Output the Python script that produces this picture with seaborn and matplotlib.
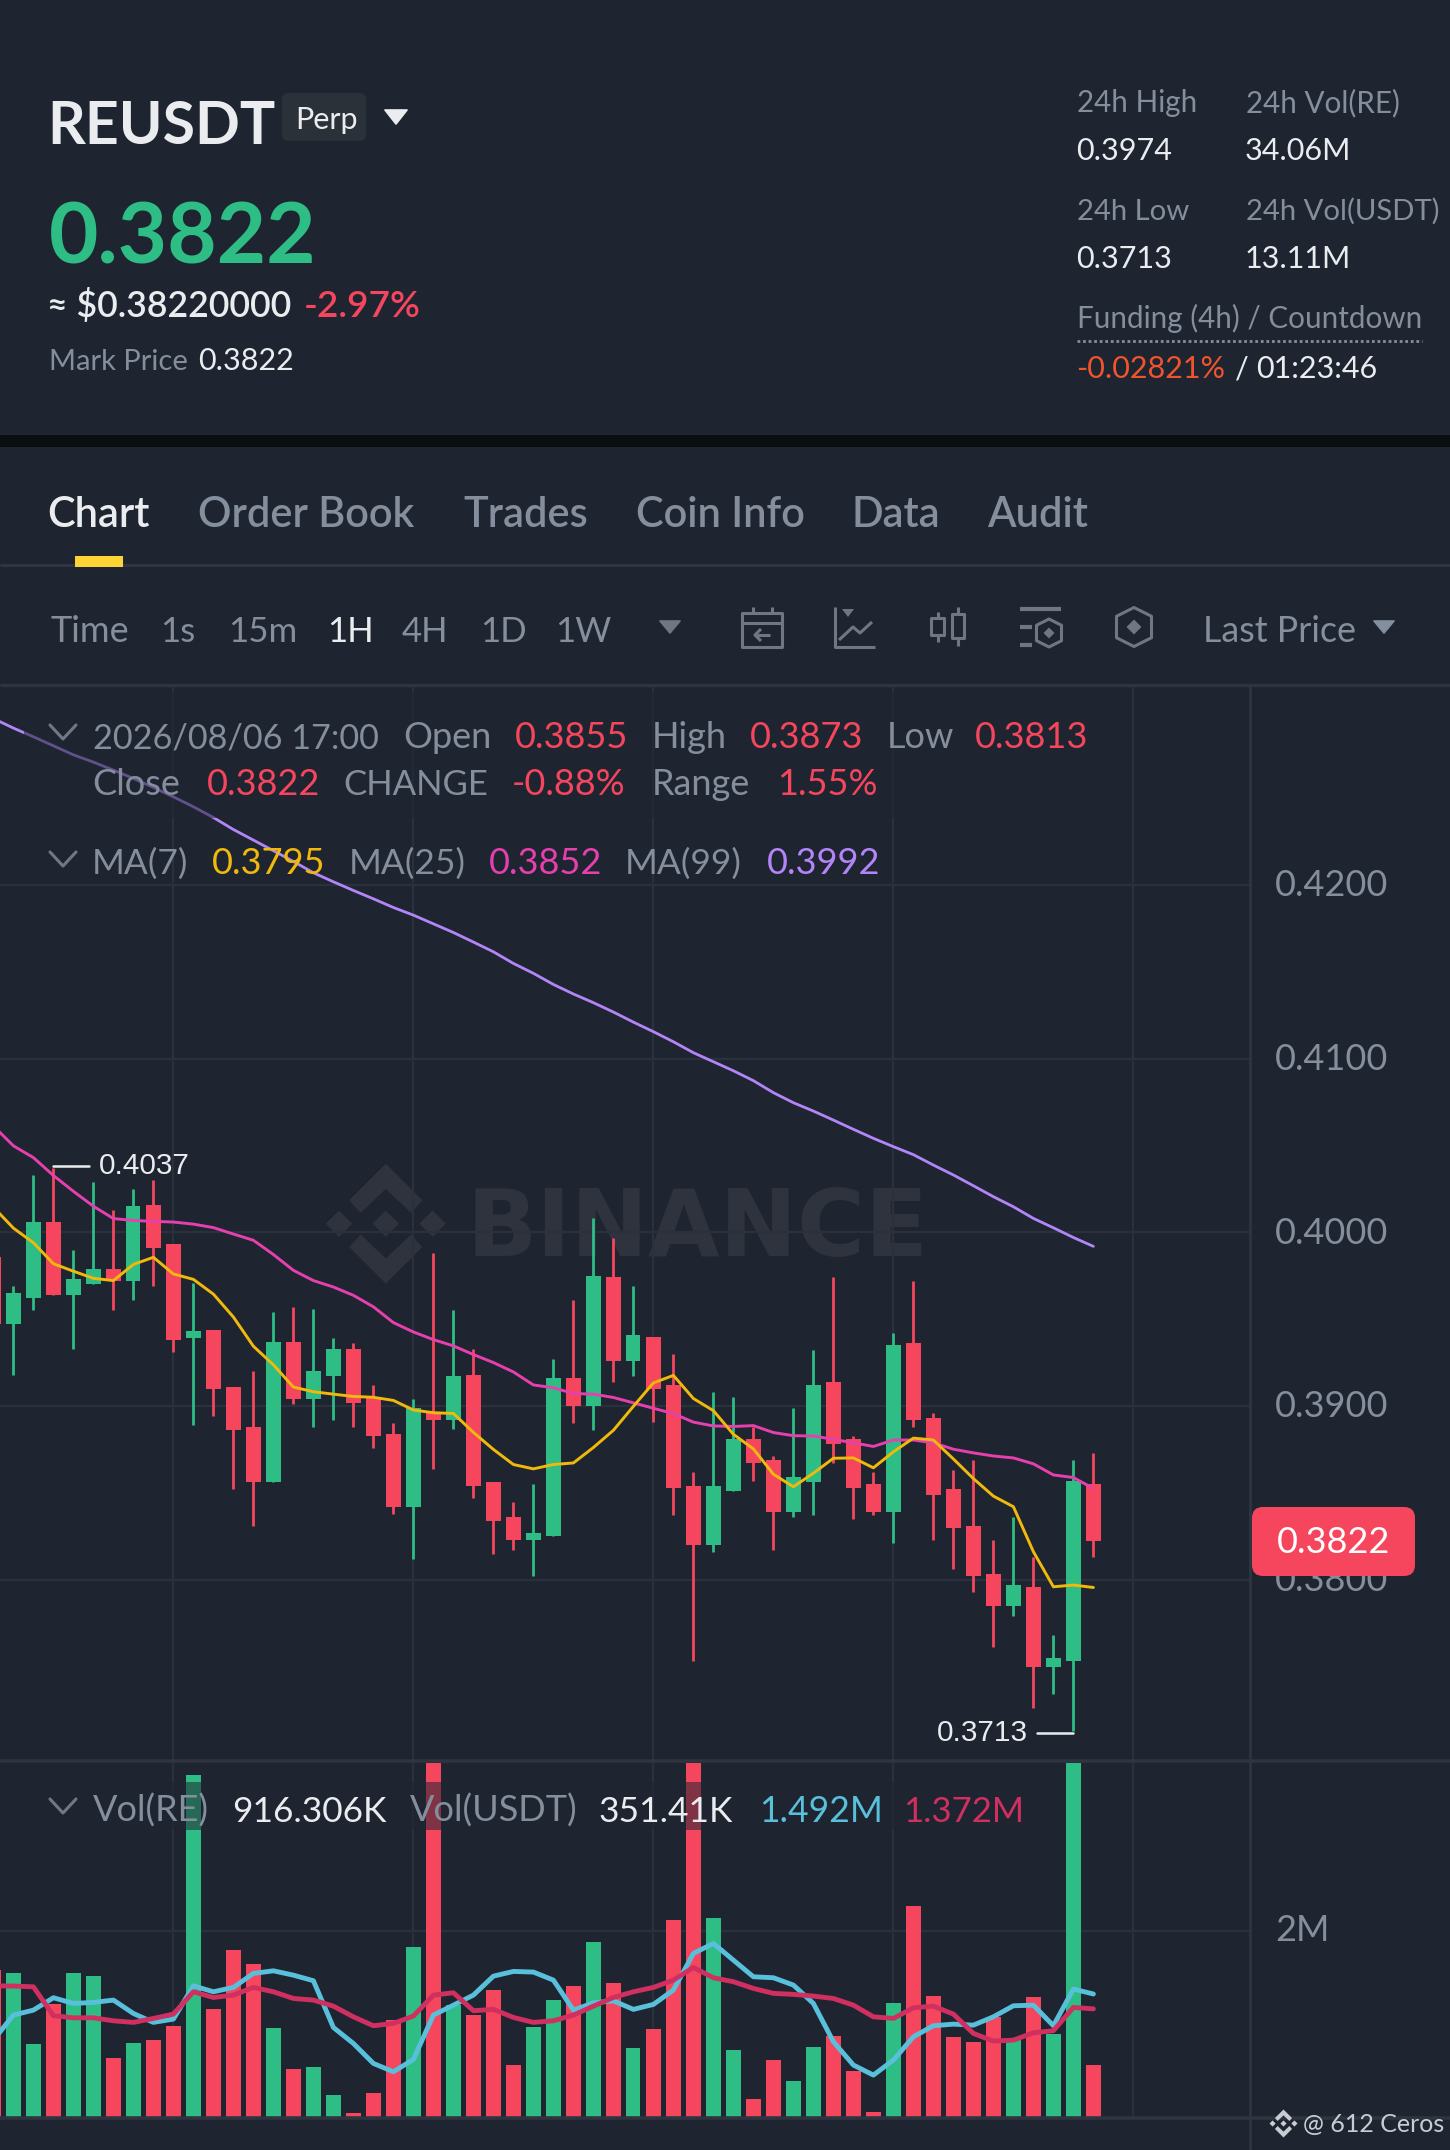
import matplotlib
matplotlib.use('Agg')
import numpy as np
import pandas as pd
import matplotlib.pyplot as plt
import seaborn as sns
from matplotlib.patches import Polygon, Rectangle, FancyBboxPatch
from matplotlib.transforms import ScaledTranslation

# Candles, one per hour, the first one is mostly cut off by the left edge
opens = [0.3986, 0.3947, 0.3962, 0.4006, 0.3964, 0.3970, 0.3979, 0.3972, 0.4016, 0.3993, 0.3939, 0.3944, 0.3911, 0.3888,
         0.3856, 0.3937, 0.3904, 0.3917, 0.3933, 0.3905, 0.3884, 0.3842, 0.3896, 0.3892, 0.3918, 0.3856, 0.3836, 0.3823,
         0.3825, 0.3916, 0.3900, 0.3974, 0.3926, 0.3940, 0.3912, 0.3854, 0.3820, 0.3851, 0.3881, 0.3869, 0.3839, 0.3856,
         0.3914, 0.3881, 0.3855, 0.3839, 0.3936, 0.3893, 0.3852, 0.3831, 0.3803, 0.3785, 0.3796, 0.3750, 0.3753, 0.3855]
highs = [0.3990, 0.3969, 0.4033, 0.4037, 0.3990, 0.4029, 0.4013, 0.4025, 0.4030, 0.3993, 0.3971, 0.3944, 0.3911, 0.3920,
         0.3954, 0.3957, 0.3956, 0.3939, 0.3936, 0.3912, 0.3890, 0.3904, 0.3988, 0.3955, 0.3933, 0.3856, 0.3845, 0.3855,
         0.3927, 0.3961, 0.4008, 0.3997, 0.3969, 0.3940, 0.3930, 0.3862, 0.3908, 0.3905, 0.3888, 0.3871, 0.3899, 0.3932,
         0.3974, 0.3883, 0.3862, 0.3942, 0.3972, 0.3896, 0.3863, 0.3869, 0.3823, 0.3836, 0.3813, 0.3768, 0.3869, 0.3873]
lows = [0.3945, 0.3918, 0.3955, 0.3964, 0.3933, 0.3970, 0.3955, 0.3961, 0.3969, 0.3931, 0.3889, 0.3894, 0.3852, 0.3831,
        0.3856, 0.3901, 0.3888, 0.3892, 0.3888, 0.3876, 0.3838, 0.3812, 0.3864, 0.3887, 0.3847, 0.3815, 0.3817, 0.3802,
        0.3825, 0.3890, 0.3886, 0.3914, 0.3917, 0.3891, 0.3837, 0.3753, 0.3816, 0.3851, 0.3857, 0.3817, 0.3836, 0.3837,
        0.3867, 0.3835, 0.3837, 0.3821, 0.3888, 0.3823, 0.3806, 0.3793, 0.3761, 0.3779, 0.3726, 0.3734, 0.3713, 0.3813]
closes = [0.3947, 0.3965, 0.4006, 0.3964, 0.3973, 0.3979, 0.3972, 0.4015, 0.3991, 0.3938, 0.3943, 0.3910, 0.3886, 0.3856,
          0.3937, 0.3904, 0.3920, 0.3933, 0.3902, 0.3883, 0.3842, 0.3899, 0.3892, 0.3917, 0.3854, 0.3834, 0.3823, 0.3827,
          0.3916, 0.3900, 0.3975, 0.3926, 0.3941, 0.3910, 0.3853, 0.3820, 0.3854, 0.3881, 0.3867, 0.3839, 0.3859, 0.3912,
          0.3878, 0.3853, 0.3839, 0.3935, 0.3892, 0.3849, 0.3830, 0.3802, 0.3785, 0.3797, 0.3750, 0.3755, 0.3857, 0.3822]

ma7 = [0.40145, 0.40024, 0.3994, 0.39819, 0.39776, 0.39735, 0.39722, 0.39815, 0.39856, 0.3976, 0.39729, 0.39644, 0.39512,
       0.39344, 0.39237, 0.39109, 0.39082, 0.39068, 0.39055, 0.3905, 0.39032, 0.38977, 0.38961, 0.38957, 0.38848, 0.3875,
       0.38663, 0.38638, 0.38663, 0.38672, 0.38761, 0.3886, 0.38998, 0.39133, 0.39176, 0.39043, 0.38973, 0.38837, 0.38753,
       0.38607, 0.38535, 0.38613, 0.38699, 0.38701, 0.38644, 0.38736, 0.38815, 0.38804, 0.38695, 0.38582, 0.38481, 0.3842,
       0.38161, 0.37959, 0.37969, 0.37955]
ma25 = [0.40612, 0.40498, 0.4043, 0.40327, 0.40236, 0.4015, 0.40079, 0.40068, 0.40063, 0.40059, 0.40047, 0.40027, 0.3999,
        0.39954, 0.39872, 0.39781, 0.39722, 0.39685, 0.39637, 0.39571, 0.3948, 0.39426, 0.39382, 0.39346, 0.39296, 0.3925,
        0.39196, 0.39121, 0.39105, 0.39072, 0.39068, 0.39049, 0.39018, 0.38987, 0.38956, 0.38907, 0.38885, 0.38882, 0.38887,
        0.38847, 0.38829, 0.38827, 0.38808, 0.38788, 0.38767, 0.38804, 0.38804, 0.38788, 0.38751, 0.3873, 0.38712, 0.38701,
        0.38667, 0.38603, 0.38588, 0.38525]
ma99 = [0.42958, 0.42903, 0.42853, 0.42801, 0.42749, 0.42707, 0.42661, 0.42613, 0.42561, 0.42507, 0.4245, 0.42388, 0.42319,
        0.42258, 0.42197, 0.42135, 0.4207, 0.42018, 0.41968, 0.4192, 0.4187, 0.41826, 0.41776, 0.41726, 0.41671, 0.41615,
        0.41548, 0.41491, 0.41427, 0.41372, 0.41322, 0.41268, 0.4121, 0.41155, 0.41097, 0.41034, 0.40982, 0.4093, 0.40873,
        0.40804, 0.40746, 0.40698, 0.40646, 0.40593, 0.40541, 0.40493, 0.40447, 0.40387, 0.4033, 0.40268, 0.40205, 0.40147,
        0.4008, 0.40026, 0.3997, 0.39919]

# Volume in millions, the three tallest bars run past the top of the panel
volume = [1.685, 1.658, 1.088, 1.411, 1.658, 1.634, 0.975, 1.096, 1.123, 1.230, 3.255, 1.368, 1.849, 1.730, 1.214, 0.886,
          0.905, 0.674, 0.529, 0.696, 1.282, 1.868, 3.600, 1.402, 1.319, 1.524, 0.919, 1.222, 1.443, 1.558, 1.913, 1.577,
          1.053, 1.209, 2.091, 3.600, 2.104, 1.037, 0.642, 0.959, 0.787, 1.061, 1.150, 0.870, 0.542, 1.421, 2.204, 1.475,
          1.142, 1.104, 1.308, 1.120, 1.464, 1.169, 3.600, 0.916]
vol_ma5 = [1.120, 1.322, 1.362, 1.462, 1.416, 1.424, 1.443, 1.335, 1.263, 1.290, 1.558, 1.510, 1.545, 1.658, 1.679, 1.644,
           1.599, 1.222, 1.093, 0.932, 0.865, 0.964, 1.322, 1.402, 1.483, 1.636, 1.674, 1.669, 1.604, 1.362, 1.421, 1.437,
           1.368, 1.408, 1.524, 1.819, 1.900, 1.765, 1.631, 1.623, 1.564, 1.416, 1.107, 0.919, 0.838, 0.959, 1.147, 1.236,
           1.249, 1.241, 1.308, 1.397, 1.402, 1.236, 1.532, 1.492]
vol_ma10 = [1.558, 1.556, 1.550, 1.317, 1.300, 1.300, 1.276, 1.263, 1.295, 1.330, 1.510, 1.464, 1.483, 1.545, 1.510, 1.456,
            1.443, 1.394, 1.308, 1.236, 1.255, 1.314, 1.483, 1.502, 1.357, 1.368, 1.303, 1.263, 1.276, 1.322, 1.394, 1.464,
            1.510, 1.545, 1.604, 1.706, 1.623, 1.591, 1.537, 1.497, 1.489, 1.475, 1.456, 1.402, 1.308, 1.295, 1.381, 1.394,
            1.330, 1.174, 1.112, 1.120, 1.179, 1.196, 1.384, 1.372]

price_ticks = [0.38, 0.39, 0.40, 0.41, 0.42]
hour_ticks = [9, 21, 33, 45, 57]

W, H = 1450, 2150
BG = '#1E2530'
GRID = '#2A313C'
LINE = '#2E3540'
GREEN = '#2EBD85'
RED = '#F6465D'
GREY = '#848E9C'
WHITE = '#EAECEF'
YELLOW = '#F0B90B'
PINK = '#E63FAE'
PURPLE = '#B385F8'
BLUE = '#59C0DC'
CRIMSON = '#CF3060'
MARK = '#2E333E'

sns.set_theme(style='dark', rc={'axes.facecolor': 'none', 'figure.facecolor': BG})
plt.rcParams['font.family'] = ['Lato', 'DejaVu Sans']

fig = plt.figure(figsize=(W / 100, H / 100), dpi=100)


def px_axes(z):
    a = fig.add_axes([0, 0, 1, 1], zorder=z)
    a.set_xlim(0, W)
    a.set_ylim(H, 0)
    a.axis('off')
    return a


def panel(top, bottom, z=1):
    a = fig.add_axes([0, 1 - bottom / H, 1250 / W, (bottom - top) / H], zorder=z)
    for s in a.spines.values():
        s.set_visible(False)
    a.set_axisbelow(True)
    return a


def lift_labels(a, px):
    for lab in a.get_yticklabels(which='both'):
        lab.set_transform(lab.get_transform() + ScaledTranslation(0, px / 100, fig.dpi_scale_trans))


under = px_axes(0)
ax = panel(685, 1761)
ax_vol = panel(1763, 2117)
ui = px_axes(2)

df = pd.DataFrame({'pos': np.arange(len(opens)), 'open': opens, 'high': highs, 'low': lows, 'close': closes,
                   'ma7': ma7, 'ma25': ma25, 'ma99': ma99, 'vol': volume, 'vol5': vol_ma5, 'vol10': vol_ma10})
df['side'] = np.where(df['close'] >= df['open'], 'up', 'down')
side_colors = {'up': GREEN, 'down': RED}
colors = df['side'].map(side_colors)

# watermark sits under the candles
def logo(a, cx, cy, r, color, z=1):
    top = [(-.61, -.39), (0, -1), (.61, -.39), (.42, -.18), (0, -.58), (-.42, -.18)]
    shapes = [top, [(x, -y) for x, y in top]]
    for dx in (-.78, 0, .78):
        shapes.append([(dx - .22, 0), (dx, -.22), (dx + .22, 0), (dx, .22)])
    for s in shapes:
        a.add_patch(Polygon([(cx + x * r, cy + y * r) for x, y in s], closed=True, fc=color, ec='none', zorder=z))


logo(under, 385.8, 1223.7, 60, MARK)
under.text(467, 1256, 'BINANCE', color=MARK, fontsize=66.5, fontweight='bold', family=['DejaVu Sans'], va='baseline')

# --- candles
ax.vlines(df['pos'], df['low'], df['high'], colors=colors, linewidth=2.0, zorder=3)
ax.bar(df['pos'], df['close'] - df['open'], bottom=df['open'], width=0.71, color=colors, edgecolor='none', linewidth=0, zorder=3)
sns.lineplot(data=df, x='pos', y='ma99', ax=ax, color=PURPLE, linewidth=2.0, zorder=4)
sns.lineplot(data=df, x='pos', y='ma25', ax=ax, color=PINK, linewidth=2.1, zorder=4)
sns.lineplot(data=df, x='pos', y='ma7', ax=ax, color=YELLOW, linewidth=2.1, zorder=4)

ax.set_xlim(0.33, 62.83)
ax.set_ylim(0.36956, 0.43151)
ax.set_xticks(hour_ticks)
ax.set_yticks(price_ticks)
ax.set_yticklabels([f'{p:.4f}' for p in price_ticks])
ax.yaxis.tick_right()
ax.tick_params(axis='x', length=0, labelbottom=False)
ax.tick_params(axis='y', length=0, pad=18, labelsize=26, labelcolor=GREY)
lift_labels(ax, 2)
ax.set_xlabel('')
ax.set_ylabel('')
ax.grid(True, color=GRID, linewidth=1.6)

# highest and lowest price markers
i_hi = int(np.argmax(highs))
i_lo = int(np.argmin(lows))
gap = 0.00014
ax.plot([i_hi, i_hi + 1.8], [highs[i_hi] + gap] * 2, color=WHITE, linewidth=1.8, zorder=5)
ax.plot([i_lo - 1.8, i_lo], [lows[i_lo] - gap] * 2, color=WHITE, linewidth=1.8, zorder=5)
ax.annotate(f'{highs[i_hi]:.4f}', (i_hi, highs[i_hi]), xytext=(45, -5.5), textcoords='offset pixels', color=WHITE,
            fontsize=21.4, family=['Liberation Sans'], va='baseline', ha='left', zorder=5)
ax.annotate(f'{lows[i_lo]:.4f}', (i_lo, lows[i_lo]), xytext=(-46, -10), textcoords='offset pixels', color=WHITE,
            fontsize=21.4, family=['Liberation Sans'], va='baseline', ha='right', zorder=5)

# --- volume
sns.barplot(data=df, x='pos', y='vol', hue='side', palette=side_colors, dodge=False, native_scale=True,
            width=0.71, saturation=1, legend=False, ax=ax_vol, zorder=3, linewidth=0, edgecolor='none')
sns.lineplot(data=df, x='pos', y='vol5', ax=ax_vol, color=BLUE, linewidth=3.5, zorder=4)
sns.lineplot(data=df, x='pos', y='vol10', ax=ax_vol, color=CRIMSON, linewidth=3.5, zorder=4)
ax_vol.set_xlim(0.33, 62.83)
ax_vol.set_ylim(0.5, 3.355)
ax_vol.set_xticks(hour_ticks)
ax_vol.set_yticks([2])
ax_vol.set_yticklabels(['2M'])
ax_vol.yaxis.tick_right()
ax_vol.tick_params(axis='x', length=0, labelbottom=False)
ax_vol.tick_params(axis='y', length=0, pad=18, labelsize=26, labelcolor=GREY)
lift_labels(ax_vol, 4)
ax_vol.set_xlabel('')
ax_vol.set_ylabel('')
ax_vol.grid(True, color=GRID, linewidth=1.6)


# --- screen furniture, in pixels
def t(x, y, s, color=WHITE, size=21, weight='normal', ha='left', a=ui, **kw):
    a.text(x, y, s, color=color, fontsize=size, fontweight=weight, ha=ha, va='baseline', zorder=6, **kw)


def hline(x0, x1, y, color=LINE, lw=2.0):
    ui.plot([x0, x1], [y, y], color=color, linewidth=lw, solid_capstyle='butt', zorder=3)


def triangle(x0, x1, y0, y1, color):
    ui.add_patch(Polygon([(x0, y0), (x1, y0), ((x0 + x1) / 2, y1)], closed=True, fc=color, ec=color, lw=1.2,
                         joinstyle='round', zorder=6))


def chevron(x0, x1, y0, y1):
    ui.plot([x0, (x0 + x1) / 2, x1], [y0, y1, y0], color=GREY, linewidth=2.2, alpha=.8, zorder=6)


def outline(pts, lw=2.2, closed=False, fill='none'):
    ui.add_patch(Polygon(pts, closed=closed, fc=fill, ec='#6F7785', lw=lw, joinstyle='round', zorder=6))


def hexagon(cx, cy, hw, hh):
    outline([(cx, cy - hh), (cx + hw, cy - hh * .55), (cx + hw, cy + hh * .55), (cx, cy + hh), (cx - hw, cy + hh * .55),
             (cx - hw, cy - hh * .55)], closed=True)
    hd = hw * .4
    outline([(cx - hd, cy), (cx, cy - hd), (cx + hd, cy), (cx, cy + hd)], lw=.5, closed=True, fill='#6F7785')


# header
t(47, 144, 'REUSDT', size=42.5, weight='bold')
ui.add_patch(FancyBboxPatch((286, 97), 76, 40, boxstyle='round,pad=4,rounding_size=7', fc='#2B3139', ec='none', zorder=3))
t(295, 129, 'Perp', size=22)
triangle(385, 407, 110, 124, WHITE)
t(49, 264, '0.3822', color=GREEN, size=61.5, weight='bold')
t(47, 317, '≈ $0.38220000', size=25.7, weight='semibold')
t(304, 317, '-2.97%', color=RED, size=26.6, weight='semibold')
t(49, 370, 'Mark Price', color=GREY, size=21)
t(198, 370, '0.3822', size=22)

for x, label in [(1077, '24h High'), (1246, '24h Vol(RE)')]:
    t(x, 112, label, color=GREY, size=21.3)
for x, label in [(1076, '0.3974'), (1245, '34.06M')]:
    t(x, 160, label, size=22)
for x, label in [(1077, '24h Low'), (1246, '24h Vol(USDT)')]:
    t(x, 220, label, color=GREY, size=21.1)
for x, label in [(1076, '0.3713'), (1245, '13.11M')]:
    t(x, 268, label, size=22)
t(1077, 328, 'Funding (4h) / Countdown', color=GREY, size=21.3)
ui.plot([1077, 1422], [341, 341], color=GREY, linewidth=2, linestyle=(0, (1, 1)), zorder=6)
t(1076, 378, '-0.02821%', color='#F0542E', size=22)
t(1235, 378, '/', size=22)
t(1256, 378, '01:23:46', size=22)

under.add_patch(Rectangle((0, 435), W, 12, fc='#0B0E11', ec='none'))

# tabs
t(47, 527, 'Chart', size=30, weight='semibold')
for x, label in [(198, 'Order Book'), (463, 'Trades'), (636, 'Coin Info'), (852, 'Data'), (987, 'Audit')]:
    t(x, 527, label, color=GREY, size=30, weight='semibold')
hline(0, W, 565, lw=2.2)
ui.add_patch(Rectangle((75, 556), 48, 11, fc='#FCD535', ec='none', zorder=4))

# toolbar
for x, label, col, sz in [(51, 'Time', GREY, 26), (160, '1s', GREY, 25), (228, '15m', GREY, 25), (327, '1H', WHITE, 25),
                          (402, '4H', GREY, 25), (480, '1D', GREY, 25), (555, '1W', GREY, 25), (1203, 'Last Price', GREY, 25.8)]:
    t(x, 642, label, color=col, size=sz)
triangle(660, 680, 621, 633, '#6F7785')
triangle(1374, 1394, 621, 633, GREY)
hline(0, W, 685, lw=2.4)

# calendar
outline([(742, 613), (782, 613), (782, 647), (742, 647)], closed=True)
outline([(742, 623), (782, 623)])
outline([(753, 607), (753, 613)])
outline([(772, 607), (772, 613)])
outline([(770, 635), (756, 635)])
outline([(761, 629), (755, 635), (761, 641)])
# line chart
outline([(835, 607), (835, 647), (875, 647)])
outline([(839, 640), (853, 627), (860, 633), (872, 622)])
ui.add_patch(Polygon([(842, 609), (854, 609), (848, 617)], closed=True, fc='#6F7785', ec='none', zorder=6))
# candle icon
outline([(931, 618), (944, 618), (944, 635), (931, 635)], closed=True)
outline([(952, 614), (964, 614), (964, 638), (952, 638)], closed=True)
for x, a0, a1, b0, b1 in [(938, 612, 618, 635, 642), (958, 607, 614, 638, 646)]:
    outline([(x, a0), (x, a1)])
    outline([(x, b0), (x, b1)])
# settings icons
outline([(1020, 609), (1061, 609)], lw=3)
outline([(1020, 627), (1032, 627)], lw=3)
outline([(1020, 645), (1032, 645)], lw=3)
hexagon(1049, 633, 12.5, 14)
hexagon(1134, 627, 17.5, 19.5)

# panel dividers
hline(0, W, 1761, lw=2.6)
hline(0, W, 2118, lw=2.6)
ui.plot([1250, 1250], [685, H], color=LINE, linewidth=2.0, zorder=3)

# legend boxes dim what is behind them
ui.add_patch(Rectangle((24, 692), 1072, 126, fc=BG, ec='none', alpha=.55, zorder=2))
ui.add_patch(Rectangle((40, 1782), 990, 48, fc=BG, ec='none', alpha=.55, zorder=2))

chevron(50, 76, 725, 739)
t(93, 748, '2026/08/06 17:00', color=GREY, size=24.7)
for x, label, col in [(403, 'Open', GREY), (515, '0.3855', RED), (652, 'High', GREY), (750, '0.3873', RED),
                      (887, 'Low', GREY), (975, '0.3813', RED)]:
    t(x, 748, label, color=col, size=26)
for x, label, col, sz in [(92, 'Close', GREY, 26), (207, '0.3822', RED, 26), (343, 'CHANGE', GREY, 25), (512, '-0.88%', RED, 26),
                          (652, 'Range', GREY, 26), (777, '1.55%', RED, 26)]:
    t(x, 795, label, color=col, size=sz)
chevron(50, 76, 852, 866)
for x, label, col, sz in [(92, 'MA(7)', GREY, 25.5), (212, '0.3795', YELLOW, 26), (349, 'MA(25)', GREY, 25.5), (489, '0.3852', PINK, 26),
                          (625, 'MA(99)', GREY, 25.5), (767, '0.3992', PURPLE, 26)]:
    t(x, 874, label, color=col, size=sz)

chevron(50, 76, 1799, 1813)
for x, label, col, sz in [(93, 'Vol(RE)', GREY, 26), (232, '916.306K', WHITE, 25.5), (410, 'Vol(USDT)', GREY, 26),
                          (599, '351.41K', WHITE, 25.5), (759, '1.492M', BLUE, 25.6), (903, '1.372M', CRIMSON, 25)]:
    t(x, 1822, label, color=col, size=sz)

# last price tag
ui.add_patch(FancyBboxPatch((1262, 1517), 143, 49, boxstyle='round,pad=10,rounding_size=11', fc=RED, ec='none', zorder=5))
t(1277, 1553, '0.3822', size=26, color='white')

# footer
logo(ui, 1283.5, 2123.5, 14, '#C9CDD3', z=6)
t(1303, 2132, '@ 612 Ceros', color='#C9CDD3', size=18)

fig.savefig('out.png', dpi=100, facecolor=BG)
